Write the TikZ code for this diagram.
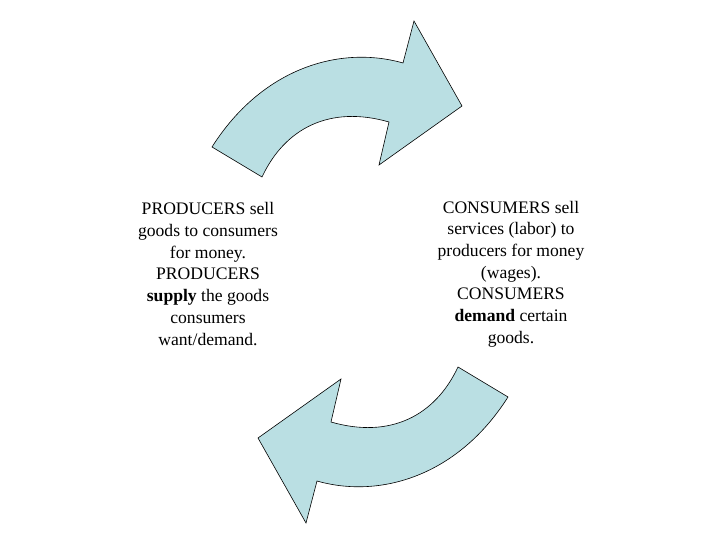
\documentclass[tikz,border=0pt]{standalone}
\usepackage{fontspec}
\setmainfont{Liberation Serif}
\begin{document}
\begin{tikzpicture}[x=1pt,y=-1pt,
  arr/.style={fill={rgb,255:red,186;green,223;blue,227},draw=black,line width=0.6pt,line join=miter},
  txt/.style={align=center,font=\fontsize{17.6}{21.7}\selectfont}]
\useasboundingbox (0,0) rectangle (720,540);
\path[arr] (212,147) .. controls (262,68) and (340,45) .. (403,63) -- (414,21) -- (462,106) -- (379,165) -- (389,122) .. controls (330,105) and (285,128) .. (262,177) -- cycle;
\begin{scope}[rotate around={180:(360,272)}]
\path[arr] (212,147) .. controls (262,68) and (340,45) .. (403,63) -- (414,21) -- (462,106) -- (379,165) -- (389,122) .. controls (330,105) and (285,128) .. (262,177) -- cycle;
\end{scope}
\node[txt] (prod) at (208,274) {PRODUCERS sell\\goods to consumers\\for money.\\PRODUCERS\\\textbf{supply} the goods\\consumers\\want/demand.};
\node[txt] (cons) at (511,274) {CONSUMERS sell\\services (labor) to\\producers for money\\(wages).\\CONSUMERS\\\textbf{demand} certain\\goods.};
\end{tikzpicture}
\end{document}
